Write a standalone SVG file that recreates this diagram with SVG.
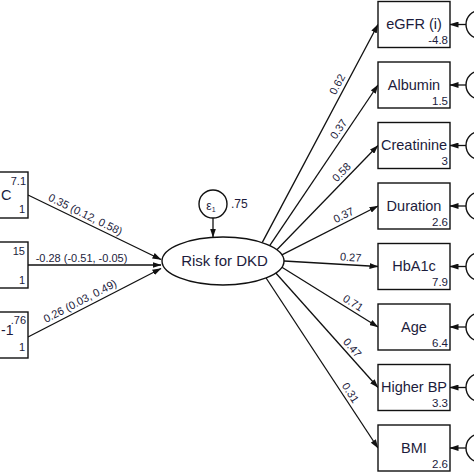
<svg xmlns="http://www.w3.org/2000/svg" width="474" height="474" viewBox="0 0 474 474">
<defs>
<marker id="ah" markerWidth="9" markerHeight="6" refX="8.5" refY="3" orient="auto" markerUnits="userSpaceOnUse"><path d="M0,0 L9,3 L0,6 z" fill="#111"/></marker>
</defs>
<style>
.box{fill:#fff;stroke:#111;stroke-width:1.4}
.cir{fill:#fff;stroke:#111;stroke-width:1.4}
.ln{stroke:#111;stroke-width:1.3;fill:none;marker-end:url(#ah)}
text{font-family:"Liberation Sans",Arial,sans-serif;fill:#1c1c3c}
.nm{font-size:14.5px;text-anchor:middle}
.num{font-size:11px;text-anchor:end}
.rnum{font-size:11.5px;text-anchor:end}
.pl{font-size:11px;text-anchor:middle}
</style>
<rect width="474" height="474" fill="#fff"/>
<g id="connectors">
<line class="ln" x1="28" y1="195" x2="161" y2="259.5"/>
<line class="ln" x1="28" y1="265" x2="161" y2="265"/>
<line class="ln" x1="28" y1="337" x2="161" y2="268.5"/>
<line class="ln" x1="213" y1="218" x2="213" y2="237"/>
<line class="ln" x1="262.2" y1="242.6" x2="378" y2="24.5"/>
<line class="ln" x1="269.7" y1="245.6" x2="378" y2="85"/>
<line class="ln" x1="276.9" y1="249.7" x2="378" y2="145.5"/>
<line class="ln" x1="281.9" y1="254.8" x2="378" y2="206"/>
<line class="ln" x1="284" y1="261" x2="378" y2="266.5"/>
<line class="ln" x1="281.9" y1="267.2" x2="378" y2="327"/>
<line class="ln" x1="275.8" y1="273" x2="378" y2="387.5"/>
<line class="ln" x1="266.1" y1="278" x2="378" y2="448"/>
<line class="ln" x1="466" y1="24.5" x2="450" y2="24.5"/>
<line class="ln" x1="466" y1="85" x2="450" y2="85"/>
<line class="ln" x1="466" y1="145.5" x2="450" y2="145.5"/>
<line class="ln" x1="466" y1="206" x2="450" y2="206"/>
<line class="ln" x1="466" y1="266.5" x2="450" y2="266.5"/>
<line class="ln" x1="466" y1="327" x2="450" y2="327"/>
<line class="ln" x1="466" y1="387.5" x2="450" y2="387.5"/>
<line class="ln" x1="466" y1="448" x2="450" y2="448"/>
<text class="pl" transform="translate(82,221.4) rotate(26.05)" y="-4">0.35 (0.12, 0.58)</text>
<text class="pl" x="81.5" y="261.5">-0.28 (-0.51, -0.05)</text>
<text class="pl" transform="translate(83.6,308) rotate(-27.4)" y="-4">0.26 (0.03, 0.49)</text>
<text class="pl" transform="translate(344,88) rotate(-61.9)" y="-4">0.62</text>
<text class="pl" transform="translate(345,133.5) rotate(-55.8)" y="-4">0.37</text>
<text class="pl" transform="translate(347,177.6) rotate(-45.4)" y="-4">0.58</text>
<text class="pl" transform="translate(347,222) rotate(-26.2)" y="-4">0.37</text>
<text class="pl" transform="translate(350,265) rotate(4.3)" y="-4">0.27</text>
<text class="pl" transform="translate(349,309.5) rotate(32.5)" y="-4">0.71</text>
<text class="pl" transform="translate(346.5,353) rotate(48.6)" y="-4">0.47</text>
<text class="pl" transform="translate(344,397) rotate(56.9)" y="-4">0.31</text>
</g>
<g id="in1"><rect class="box" x="-40" y="172" width="68" height="46"/><text x="1" y="200" font-size="14.5">C</text><text class="num" x="26" y="185">7.1</text><text class="num" x="25" y="213">1</text></g>
<g id="in2"><rect class="box" x="-40" y="242" width="68" height="46"/><text class="num" x="25" y="255">15</text><text class="num" x="25" y="284">1</text></g>
<g id="in3"><rect class="box" x="-40" y="312" width="68" height="46"/><text x="1" y="335" font-size="14">-1</text><text class="num" x="26" y="324">.76</text><text class="num" x="25" y="351">1</text></g>
<g id="risk"><ellipse class="cir" cx="223" cy="261" rx="61" ry="24"/><text x="224.5" y="266" font-size="15" text-anchor="middle">Risk for DKD</text></g>
<g id="e1"><circle class="cir" cx="213" cy="204" r="14"/><text x="211" y="210" font-size="12" text-anchor="middle">ε<tspan font-size="7" dy="2">1</tspan></text><text x="231" y="208" font-size="12">.75</text></g>
<g id="egfr"><rect class="box" x="378" y="1.5" width="72" height="46"/><text class="nm" x="414" y="29">eGFR (i)</text><text class="rnum" x="448" y="44">-4.8</text><circle class="cir" cx="480" cy="24.5" r="14"/></g>
<g id="albumin"><rect class="box" x="378" y="62" width="72" height="46"/><text class="nm" x="414" y="89.5">Albumin</text><text class="rnum" x="448" y="104.5">1.5</text><circle class="cir" cx="480" cy="85" r="14"/></g>
<g id="creatinine"><rect class="box" x="378" y="122.5" width="72" height="46"/><text class="nm" x="414" y="150">Creatinine</text><text class="rnum" x="448" y="165">3</text><circle class="cir" cx="480" cy="145.5" r="14"/></g>
<g id="duration"><rect class="box" x="378" y="183" width="72" height="46"/><text class="nm" x="414" y="210.5">Duration</text><text class="rnum" x="448" y="225.5">2.6</text><circle class="cir" cx="480" cy="206" r="14"/></g>
<g id="hba1c"><rect class="box" x="378" y="243.5" width="72" height="46"/><text class="nm" x="414" y="271">HbA1c</text><text class="rnum" x="448" y="286">7.9</text><circle class="cir" cx="480" cy="266.5" r="14"/></g>
<g id="age"><rect class="box" x="378" y="304" width="72" height="46"/><text class="nm" x="414" y="331.5">Age</text><text class="rnum" x="448" y="346.5">6.4</text><circle class="cir" cx="480" cy="327" r="14"/></g>
<g id="higherbp"><rect class="box" x="378" y="364.5" width="72" height="46"/><text class="nm" x="414" y="392">Higher BP</text><text class="rnum" x="448" y="407">3.3</text><circle class="cir" cx="480" cy="387.5" r="14"/></g>
<g id="bmi"><rect class="box" x="378" y="425" width="72" height="46"/><text class="nm" x="414" y="452.5">BMI</text><text class="rnum" x="448" y="467.5">2.6</text><circle class="cir" cx="480" cy="448" r="14"/></g>
</svg>
